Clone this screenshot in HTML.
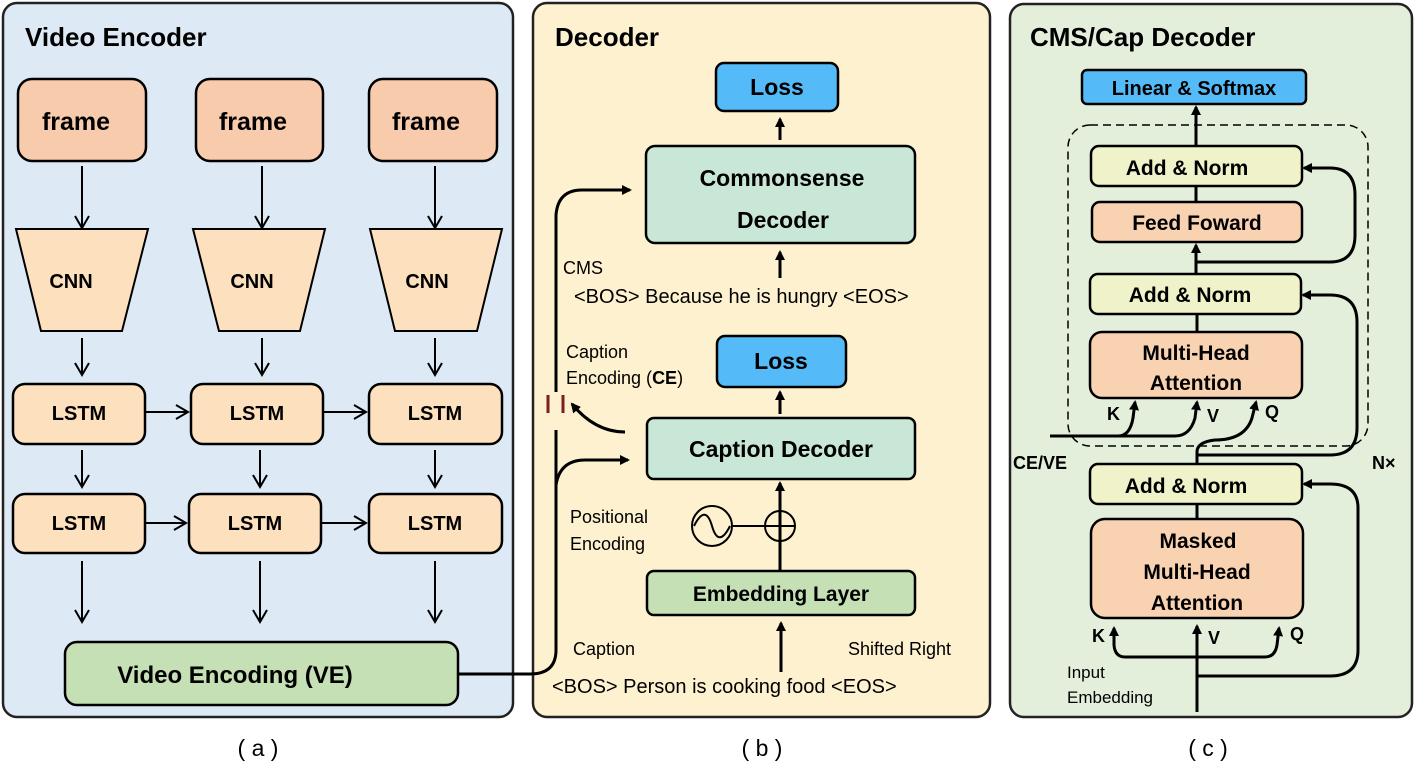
<!DOCTYPE html>
<html><head><meta charset="utf-8"><style>
html,body{margin:0;padding:0;background:#fff;}
svg{display:block;font-family:"Liberation Sans",sans-serif;}
.b{font-weight:bold;}
</style></head><body>
<svg width="1416" height="766" viewBox="0 0 1416 766" xmlns="http://www.w3.org/2000/svg">
<defs>
<marker id="ah" markerWidth="10" markerHeight="10" refX="8" refY="5" orient="auto" markerUnits="userSpaceOnUse"><path d="M0,0 L10,5 L0,10 Z" fill="#000"/></marker>
<marker id="oa" markerWidth="16" markerHeight="16" refX="14" refY="8" orient="auto" markerUnits="userSpaceOnUse"><path d="M2,1 L14,8 L2,15" fill="none" stroke="#000" stroke-width="2"/></marker>
</defs>
<!-- panels -->
<rect x="3" y="3" width="510" height="714" rx="14" fill="#dee9f6" stroke="#222" stroke-width="2.5"/>
<rect x="533" y="3" width="457" height="714" rx="14" fill="#fdf1cf" stroke="#222" stroke-width="2.5"/>
<rect x="1010" y="4" width="402" height="713" rx="14" fill="#e3efdb" stroke="#222" stroke-width="2.5"/>

<!-- Panel a -->
<text x="25" y="46" class="b" font-size="26">Video Encoder</text>
<g stroke="#000" stroke-width="2.5" fill="#f8cbad">
<rect x="18" y="79" width="128" height="82" rx="14"/>
<rect x="196" y="79" width="127" height="82" rx="14"/>
<rect x="369" y="79" width="128" height="82" rx="14"/>
</g>
<g font-size="25" class="b" text-anchor="middle">
<text x="76" y="130">frame</text><text x="253" y="130">frame</text><text x="426" y="130">frame</text>
</g>
<g stroke="#000" stroke-width="2" fill="#fde0bd">
<polygon points="16,229 148,229 122,331 41,331"/>
<polygon points="193,229 325,229 300,331 219,331"/>
<polygon points="370,229 502,229 477,331 395,331"/>
</g>
<g font-size="20" class="b" text-anchor="middle">
<text x="71" y="288">CNN</text><text x="252" y="288">CNN</text><text x="427" y="288">CNN</text>
</g>
<g stroke="#000" stroke-width="2" marker-end="url(#oa)">
<line x1="82" y1="166" x2="82" y2="228"/><line x1="262" y1="166" x2="262" y2="228"/><line x1="435" y1="166" x2="435" y2="228"/>
<line x1="82" y1="338" x2="82" y2="375"/><line x1="262" y1="338" x2="262" y2="375"/><line x1="435" y1="338" x2="435" y2="375"/>
<line x1="82" y1="450" x2="82" y2="487"/><line x1="260" y1="450" x2="260" y2="487"/><line x1="435" y1="450" x2="435" y2="487"/>
<line x1="82" y1="561" x2="82" y2="622"/><line x1="260" y1="561" x2="260" y2="622"/><line x1="435" y1="561" x2="435" y2="622"/>
<line x1="146" y1="412" x2="188" y2="412"/><line x1="324" y1="412" x2="366" y2="412"/>
<line x1="146" y1="523" x2="186" y2="523"/><line x1="322" y1="523" x2="366" y2="523"/>
</g>
<g stroke="#000" stroke-width="2.5" fill="#fde0bd">
<rect x="13" y="384" width="132" height="60" rx="12"/>
<rect x="191" y="384" width="132" height="60" rx="12"/>
<rect x="369" y="384" width="133" height="60" rx="12"/>
<rect x="13" y="494" width="132" height="59" rx="12"/>
<rect x="189" y="494" width="132" height="59" rx="12"/>
<rect x="369" y="494" width="133" height="59" rx="12"/>
</g>
<g font-size="20" class="b" text-anchor="middle">
<text x="79" y="420">LSTM</text><text x="257" y="420">LSTM</text><text x="435" y="420">LSTM</text>
<text x="79" y="530">LSTM</text><text x="255" y="530">LSTM</text><text x="435" y="530">LSTM</text>
</g>
<rect x="65" y="642" width="393" height="63" rx="12" fill="#c5e0b4" stroke="#000" stroke-width="2.5"/>
<text x="235" y="683" text-anchor="middle" class="b" font-size="24">Video Encoding (VE)</text>

<!-- connector VE -> decoder -->
<path d="M458,674 L530,674 Q556,674 556,650 L556,430" fill="none" stroke="#000" stroke-width="3"/>
<path d="M556,392 L556,215 Q558,190 582,190 L630,190" fill="none" stroke="#000" stroke-width="3" marker-end="url(#ah)"/>
<path d="M556,485 Q560,460 585,460 L628,460" fill="none" stroke="#000" stroke-width="3" marker-end="url(#ah)"/>
<path d="M625,432 Q595,432 572,404" fill="none" stroke="#000" stroke-width="3" marker-end="url(#ah)"/>
<line x1="548" y1="395" x2="548" y2="413" stroke="#7b1f1f" stroke-width="3"/>
<line x1="563" y1="395" x2="563" y2="413" stroke="#7b1f1f" stroke-width="3"/>

<!-- Panel b -->
<text x="555" y="46" class="b" font-size="26">Decoder</text>
<rect x="716" y="63" width="122" height="48" rx="8" fill="#55bbf8" stroke="#000" stroke-width="2.5"/>
<text x="777" y="95" text-anchor="middle" class="b" font-size="23">Loss</text>
<rect x="646" y="146" width="269" height="97" rx="9" fill="#c9e7d6" stroke="#000" stroke-width="2.5"/>
<text x="782" y="186" text-anchor="middle" class="b" font-size="23">Commonsense</text>
<text x="783" y="228" text-anchor="middle" class="b" font-size="23">Decoder</text>
<g stroke="#000" stroke-width="3" marker-end="url(#ah)">
<line x1="780" y1="140" x2="780" y2="119"/>
<line x1="780" y1="278" x2="780" y2="252"/>
<line x1="780" y1="414" x2="780" y2="392"/>
<line x1="780" y1="538" x2="780" y2="483"/>
<line x1="781" y1="672" x2="781" y2="623"/>
</g>
<text x="563" y="274" font-size="18">CMS</text>
<text x="574" y="303" font-size="20">&lt;BOS&gt; Because he is hungry &lt;EOS&gt;</text>
<text x="566" y="358" font-size="18">Caption</text>
<text x="566" y="384" font-size="18">Encoding (<tspan class="b">CE</tspan>)</text>
<rect x="717" y="336" width="129" height="51" rx="8" fill="#55bbf8" stroke="#000" stroke-width="2.5"/>
<text x="781" y="369" text-anchor="middle" class="b" font-size="23">Loss</text>
<rect x="647" y="418" width="268" height="61" rx="7" fill="#c9e7d6" stroke="#000" stroke-width="2.5"/>
<text x="781" y="457" text-anchor="middle" class="b" font-size="23">Caption Decoder</text>
<text x="570" y="523" font-size="18">Positional</text>
<text x="570" y="550" font-size="18">Encoding</text>
<circle cx="712" cy="526" r="20" fill="none" stroke="#000" stroke-width="2"/>
<path d="M694,526 C702,510 708,512 712,526 C716,540 722,542 730,526" fill="none" stroke="#000" stroke-width="2"/>
<line x1="732" y1="526" x2="765" y2="526" stroke="#000" stroke-width="2"/>
<circle cx="780" cy="526" r="15" fill="none" stroke="#000" stroke-width="2"/>
<line x1="765" y1="526" x2="795" y2="526" stroke="#000" stroke-width="2"/>
<line x1="780" y1="570" x2="780" y2="538" stroke="#000" stroke-width="3"/>
<rect x="647" y="571" width="268" height="44" rx="7" fill="#c5e0b4" stroke="#000" stroke-width="2.5"/>
<text x="781" y="601" text-anchor="middle" class="b" font-size="21">Embedding Layer</text>
<text x="573" y="655" font-size="18">Caption</text>
<text x="848" y="655" font-size="18">Shifted Right</text>
<text x="552" y="693" font-size="20">&lt;BOS&gt; Person is cooking food &lt;EOS&gt;</text>

<!-- Panel c -->
<text x="1030" y="46" class="b" font-size="26">CMS/Cap Decoder</text>
<rect x="1082" y="70" width="224" height="34" rx="5" fill="#55bbf8" stroke="#000" stroke-width="2.5"/>
<text x="1194" y="95" text-anchor="middle" class="b" font-size="20">Linear &amp; Softmax</text>
<rect x="1068" y="125" width="300" height="321" rx="22" fill="none" stroke="#000" stroke-width="1.5" stroke-dasharray="8,5"/>
<g stroke="#000" stroke-width="3" marker-end="url(#ah)">
<line x1="1196" y1="146" x2="1196" y2="107"/>
<line x1="1196" y1="274" x2="1196" y2="245"/>
</g>
<g stroke="#000" stroke-width="3">
<line x1="1196" y1="202" x2="1196" y2="186"/>
<line x1="1197" y1="332" x2="1197" y2="313"/>
<line x1="1197" y1="519" x2="1197" y2="504"/>
</g>
<rect x="1091" y="146" width="211" height="40" rx="8" fill="#f0f3c9" stroke="#000" stroke-width="2.5"/>
<text x="1187" y="175" text-anchor="middle" class="b" font-size="21">Add &amp; Norm</text>
<rect x="1092" y="202" width="210" height="40" rx="8" fill="#f9d2b2" stroke="#000" stroke-width="2.5"/>
<text x="1197" y="230" text-anchor="middle" class="b" font-size="21">Feed Foward</text>
<rect x="1090" y="274" width="211" height="40" rx="8" fill="#f0f3c9" stroke="#000" stroke-width="2.5"/>
<text x="1190" y="302" text-anchor="middle" class="b" font-size="21">Add &amp; Norm</text>
<rect x="1090" y="332" width="212" height="66" rx="12" fill="#f9d2b2" stroke="#000" stroke-width="2.5"/>
<text x="1196" y="360" text-anchor="middle" class="b" font-size="21">Multi-Head</text>
<text x="1196" y="390" text-anchor="middle" class="b" font-size="21">Attention</text>
<!-- residual curves -->
<path d="M1197,262 L1330,262 Q1355,262 1355,235 L1355,195 Q1355,168 1330,168 L1304,168" fill="none" stroke="#000" stroke-width="3" marker-end="url(#ah)"/>
<path d="M1197,455 L1330,455 Q1357,455 1357,428 L1357,322 Q1357,295 1330,295 L1303,295" fill="none" stroke="#000" stroke-width="3" marker-end="url(#ah)"/>
<path d="M1197,676 L1330,676 Q1358,676 1358,650 L1358,508 Q1358,484 1330,484 L1304,484" fill="none" stroke="#000" stroke-width="3" marker-end="url(#ah)"/>
<!-- K V Q upper -->
<path d="M1050,436 L1118,436 Q1130,436 1133,418 L1135,402" fill="none" stroke="#000" stroke-width="3" marker-end="url(#ah)"/>
<path d="M1118,436 L1175,436 Q1190,436 1195,418 L1197,402" fill="none" stroke="#000" stroke-width="3" marker-end="url(#ah)"/>
<path d="M1197,466 L1197,452 Q1197,442 1215,440 Q1245,440 1252,418 L1256,402" fill="none" stroke="#000" stroke-width="3" marker-end="url(#ah)"/>
<g class="b" font-size="18">
<text x="1107" y="420">K</text><text x="1207" y="422">V</text><text x="1265" y="418">Q</text>
<text x="1013" y="469">CE/VE</text><text x="1372" y="469">N×</text>
</g>
<rect x="1090" y="464" width="212" height="40" rx="8" fill="#f0f3c9" stroke="#000" stroke-width="2.5"/>
<text x="1186" y="493" text-anchor="middle" class="b" font-size="21">Add &amp; Norm</text>
<rect x="1091" y="519" width="212" height="99" rx="14" fill="#f9d2b2" stroke="#000" stroke-width="2.5"/>
<text x="1198" y="548" text-anchor="middle" class="b" font-size="21">Masked</text>
<text x="1197" y="579" text-anchor="middle" class="b" font-size="21">Multi-Head</text>
<text x="1197" y="610" text-anchor="middle" class="b" font-size="21">Attention</text>
<!-- lower KVQ -->
<line x1="1197" y1="712" x2="1197" y2="626" stroke="#000" stroke-width="3" marker-end="url(#ah)"/>
<path d="M1197,657 L1125,657 Q1115,657 1114,645 L1114,628" fill="none" stroke="#000" stroke-width="3" marker-end="url(#ah)"/>
<path d="M1197,657 L1265,657 Q1275,657 1277,645 L1279,628" fill="none" stroke="#000" stroke-width="3" marker-end="url(#ah)"/>
<g class="b" font-size="18">
<text x="1092" y="642">K</text><text x="1208" y="644">V</text><text x="1290" y="640">Q</text>
</g>
<text x="1067" y="678" font-size="17">Input</text>
<text x="1067" y="703" font-size="17">Embedding</text>

<!-- captions -->
<g font-size="23" text-anchor="middle">
<text x="258" y="756">( a )</text><text x="762" y="756">( b )</text><text x="1208" y="756">( c )</text>
</g>
</svg>
</body></html>
